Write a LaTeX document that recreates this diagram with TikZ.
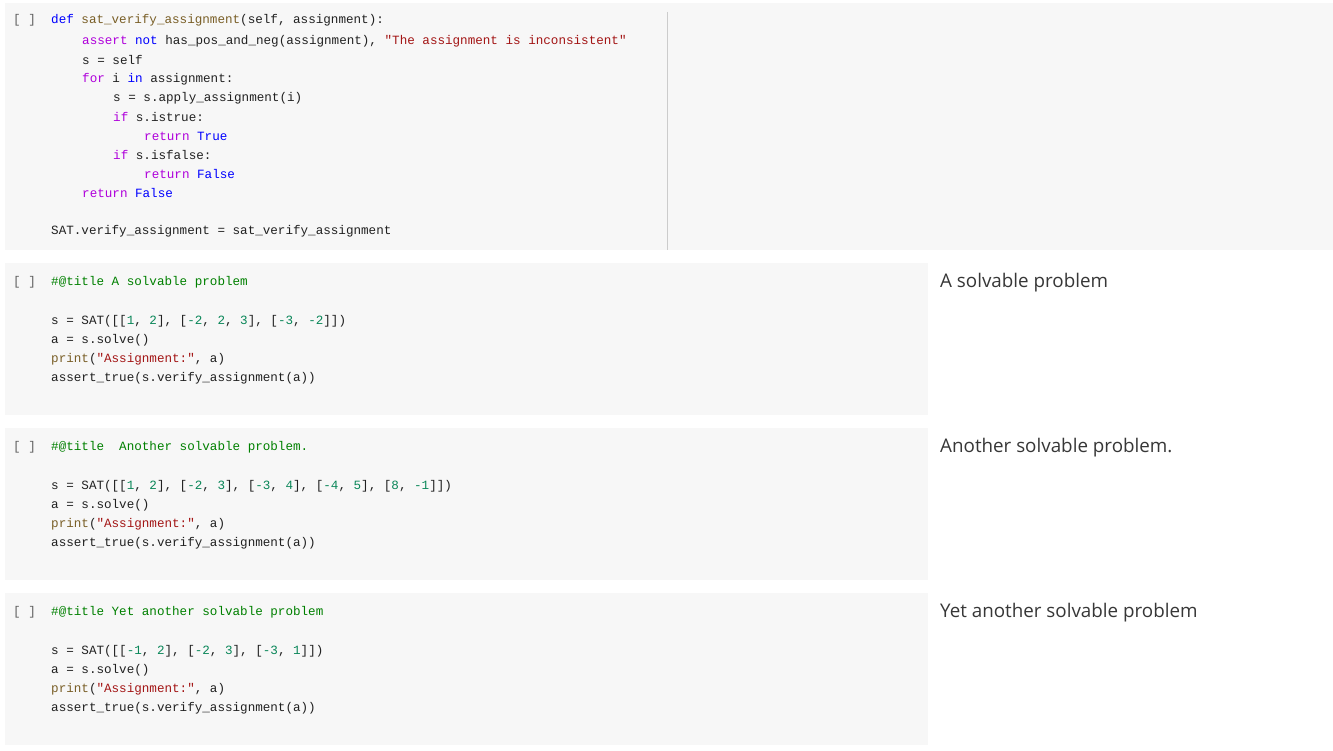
\documentclass[tikz,border=0pt]{standalone}
\usepackage{fontspec}
\newfontfamily\code{Liberation Mono}
\newfontfamily\ui{Open Sans}
\definecolor{cellbg}{HTML}{F7F7F7}
\definecolor{kw}{HTML}{AF00DB}
\definecolor{bl}{HTML}{0000FF}
\definecolor{fn}{HTML}{795E26}
\definecolor{st}{HTML}{A31515}
\definecolor{nu}{HTML}{098658}
\definecolor{cm}{HTML}{008000}
\definecolor{tx}{HTML}{212121}
\definecolor{br}{HTML}{616161}
\newcommand{\K}[1]{\textcolor{kw}{#1}}
\newcommand{\B}[1]{\textcolor{bl}{#1}}
\newcommand{\F}[1]{\textcolor{fn}{#1}}
\newcommand{\St}[1]{\textcolor{st}{#1}}
\newcommand{\N}[1]{\textcolor{nu}{#1}}
\newcommand{\C}[1]{\textcolor{cm}{#1}}
\begin{document}
\begin{tikzpicture}[x=1pt,y=-1pt,
  ln/.style={anchor=west,inner sep=0pt,font=\code\fontsize{12.6}{14}\selectfont,text=tx},
  brk/.style={anchor=west,inner sep=0pt,font=\code\fontsize{12.6}{14}\selectfont,text=br},
  ttl/.style={anchor=west,inner sep=0pt,font=\ui\fontsize{18.8}{22}\selectfont,text=tx!90}]
\useasboundingbox[fill=white] (0,0) rectangle (1333,751);
% cell 1
\fill[cellbg] (5,3) rectangle (1333,250);
\draw[gray!40] (667,12) -- (667,250);
\node[brk] (b1) at (13,20) {[ ]};
\node[ln] (l1) at (51,20) {\B{def} \F{sat\_verify\_assignment}(self, assignment):};
\node[ln] (l2) at (82,41) {\K{assert} \B{not} has\_pos\_and\_neg(assignment), \St{"The assignment is inconsistent"}};
\node[ln] (l3) at (82,60) {s = self};
\node[ln] (l4) at (82,79) {\K{for} i \B{in} assignment:};
\node[ln] (l5) at (113,98) {s = s.apply\_assignment(i)};
\node[ln] (l6) at (113,117) {\K{if} s.istrue:};
\node[ln] (l7) at (144,136) {\K{return} \B{True}};
\node[ln] (l8) at (113,155) {\K{if} s.isfalse:};
\node[ln] (l9) at (144,174) {\K{return} \B{False}};
\node[ln] (l10) at (82,193) {\K{return} \B{False}};
\node[ln] (l11) at (51,231) {SAT.verify\_assignment = sat\_verify\_assignment};
% cell 2
\fill[cellbg] (5,263) rectangle (928,415);
\node[brk] (b2) at (13,282) {[ ]};
\node[ln] (a1) at (51,282) {\C{\#@title A solvable problem}};
\node[ln] (a2) at (51,321) {s = SAT([[\N{1}, \N{2}], [\N{-2}, \N{2}, \N{3}], [\N{-3}, \N{-2}]])};
\node[ln] (a3) at (51,340) {a = s.solve()};
\node[ln] (a4) at (51,359) {\F{print}(\St{"Assignment:"}, a)};
\node[ln] (a5) at (51,378) {assert\_true(s.verify\_assignment(a))};
\node[ttl] (t2) at (940,283) {A solvable problem};
% cell 3
\fill[cellbg] (5,428) rectangle (928,580);
\node[brk] (b3) at (13,447) {[ ]};
\node[ln] (c1) at (51,447) {\C{\#@title\ \ Another solvable problem.}};
\node[ln] (c2) at (51,486) {s = SAT([[\N{1}, \N{2}], [\N{-2}, \N{3}], [\N{-3}, \N{4}], [\N{-4}, \N{5}], [\N{8}, \N{-1}]])};
\node[ln] (c3) at (51,505) {a = s.solve()};
\node[ln] (c4) at (51,524) {\F{print}(\St{"Assignment:"}, a)};
\node[ln] (c5) at (51,543) {assert\_true(s.verify\_assignment(a))};
\node[ttl] (t3) at (940,448) {Another solvable problem.};
% cell 4
\fill[cellbg] (5,593) rectangle (928,745);
\node[brk] (b4) at (13,612) {[ ]};
\node[ln] (d1) at (51,612) {\C{\#@title Yet another solvable problem}};
\node[ln] (d2) at (51,651) {s = SAT([[\N{-1}, \N{2}], [\N{-2}, \N{3}], [\N{-3}, \N{1}]])};
\node[ln] (d3) at (51,670) {a = s.solve()};
\node[ln] (d4) at (51,689) {\F{print}(\St{"Assignment:"}, a)};
\node[ln] (d5) at (51,708) {assert\_true(s.verify\_assignment(a))};
\node[ttl] (t4) at (940,613) {Yet another solvable problem};
\end{tikzpicture}
\end{document}
